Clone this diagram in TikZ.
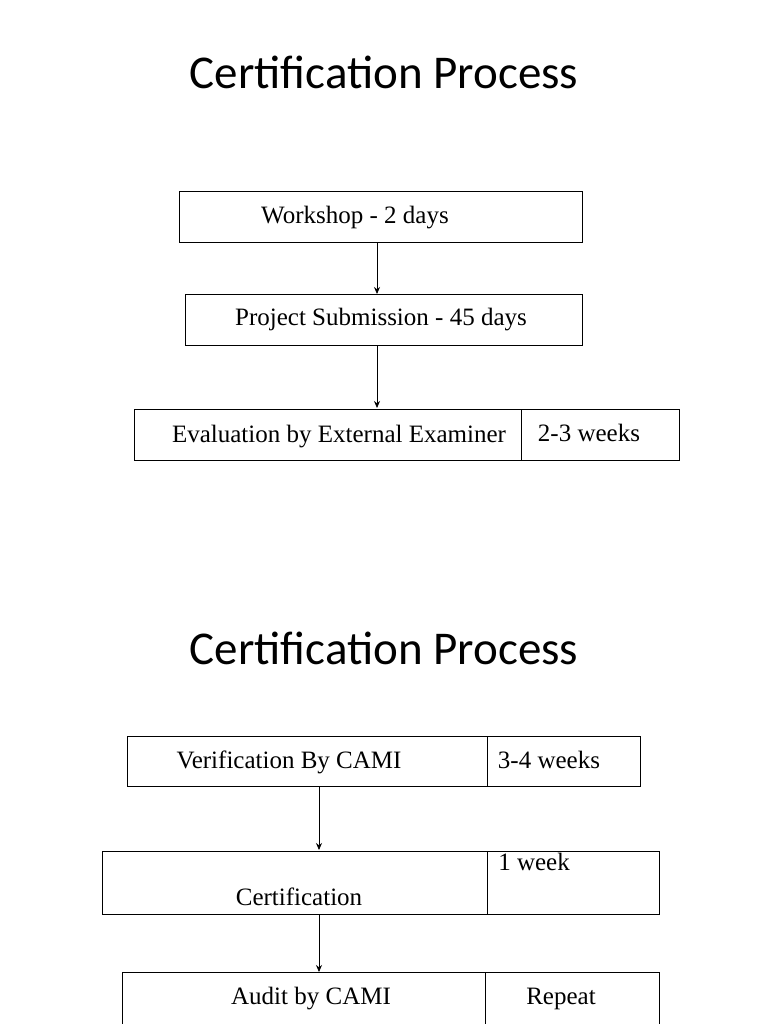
\documentclass[tikz,border=0pt]{standalone}
\usepackage{fontspec}
\setmainfont{Liberation Serif}
\newfontfamily\titlefont{Carlito}
\usetikzlibrary{arrows.meta}
\begin{document}
\begin{tikzpicture}[x=1pt,y=-1pt,
  box/.style={draw,line width=1pt},
  lbl/.style={font=\fontsize{25}{28}\selectfont,inner sep=0pt},
  ttl/.style={font=\titlefont\fontsize{47}{52}\selectfont,inner sep=0pt},
  arr/.style={-{Stealth[length=7pt,width=6pt]},line width=0.8pt}]
\useasboundingbox (0,0) rectangle (768,1024);
\node[ttl] (t1) at (384,72) {Certification Process};
\node[ttl] (t2) at (384,648) {Certification Process};
% boxes
\draw[box] (179,192) rectangle (582,242);
\coordinate (b1) at (377,242);
\node[lbl] (l1) at (355,218) {Workshop - 2 days};
\draw[box] (185,294) rectangle (582,345);
\coordinate (b2t) at (377,294);
\coordinate (b2) at (377,345);
\node[lbl] (l2) at (381,320) {Project Submission - 45 days};
\draw[box] (134,409) rectangle (679,460);
\draw[line width=1pt] (521,409) -- (521,460);
\coordinate (b3t) at (377,408);
\node[lbl] (l3) at (339,437) {Evaluation by External Examiner};
\node[lbl] (l3b) at (589,433) {2-3 weeks};
\draw[arr] (b1) -- (b2t);
\draw[arr] (b2) -- (b3t);
\draw[box] (127,736) rectangle (640,786);
\draw[line width=1pt] (487,736) -- (487,786);
\node[lbl] (l4) at (289,762) {Verification By CAMI};
\node[lbl] (l4b) at (549,760) {3-4 weeks};
\coordinate (b4) at (319,786);
\draw[box] (102,851) rectangle (659,914);
\draw[line width=1pt] (487,851) -- (487,914);
\node[lbl] (l5) at (299,897) {Certification};
\node[lbl] (l5b) at (534,862) {1 week};
\coordinate (b5t) at (319,850);
\coordinate (b5) at (319,914);
\draw[box] (122,972) rectangle (659,1030);
\draw[line width=1pt] (485,972) -- (485,1030);
\node[lbl] (l6) at (311,999) {Audit by CAMI};
\node[lbl] (l6b) at (561,999) {Repeat};
\coordinate (b6t) at (319,972);
\draw[arr] (b4) -- (b5t);
\draw[arr] (b5) -- (b6t);
\end{tikzpicture}
\end{document}
